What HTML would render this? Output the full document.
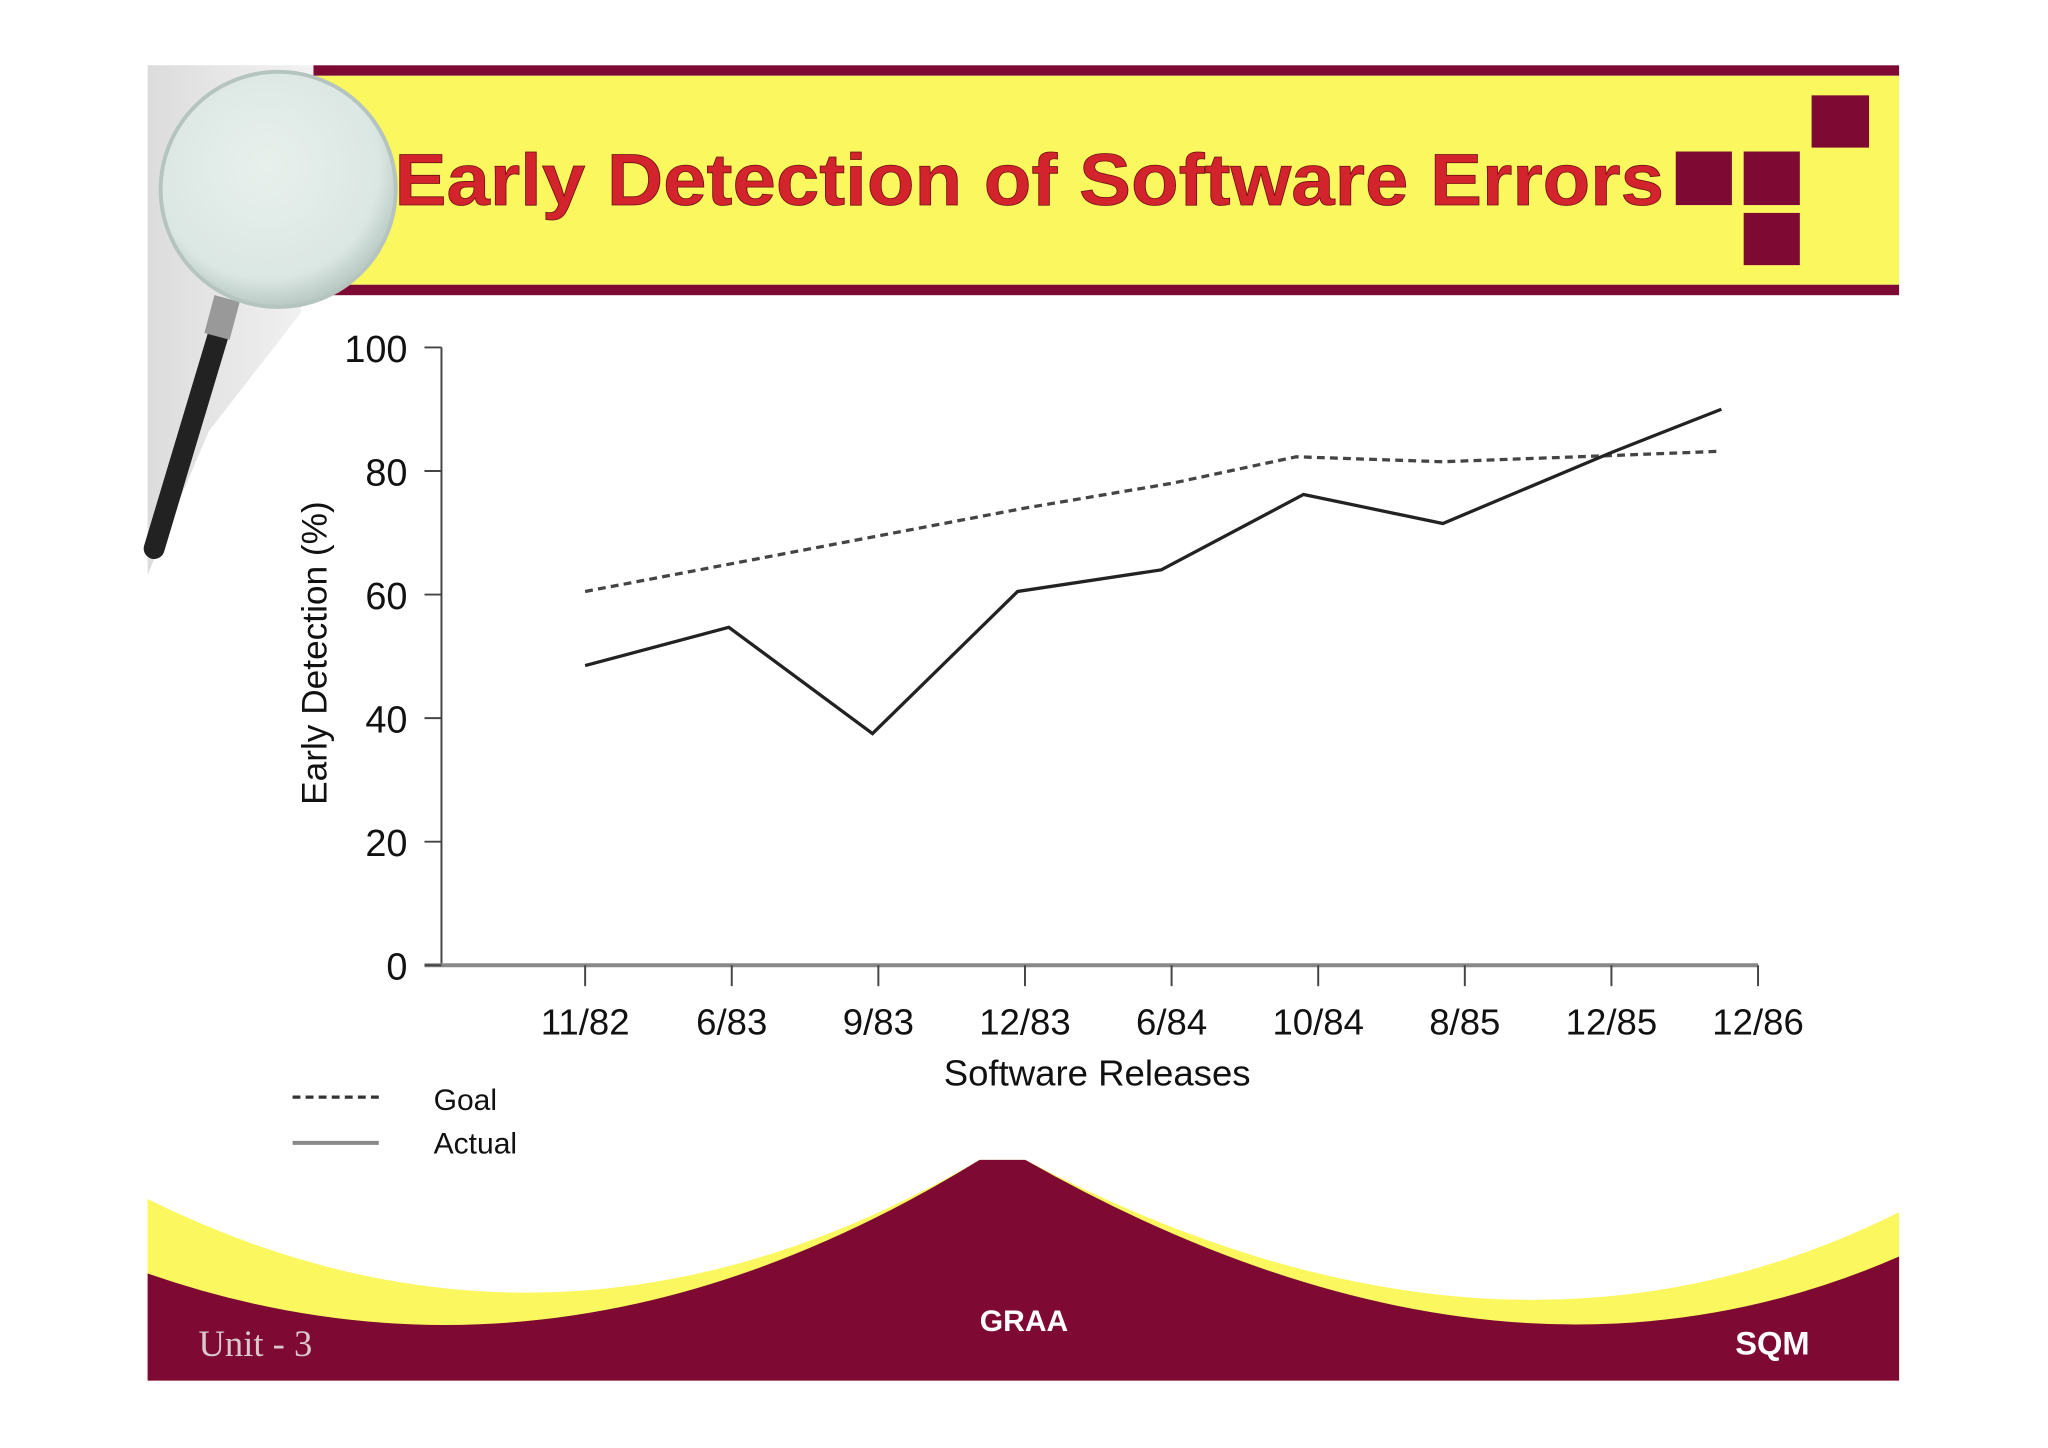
<!DOCTYPE html>
<html><head><meta charset="utf-8"><style>
html,body{margin:0;padding:0;background:#fff;}
svg{display:block;}
</style></head><body>
<svg id="slide" width="2048" height="1448" viewBox="0 0 1568 1108.6" preserveAspectRatio="none" xmlns="http://www.w3.org/2000/svg" font-family="Liberation Sans, sans-serif">
<defs>
<radialGradient id="lens" cx="0.45" cy="0.4" r="0.6"><stop offset="0" stop-color="#e8f0ec"/><stop offset="0.8" stop-color="#dbe7e3"/><stop offset="1" stop-color="#b9c9c4"/></radialGradient>
<linearGradient id="shade" x1="0" x2="1"><stop offset="0" stop-color="#dcdcdc"/><stop offset="1" stop-color="#f6f6f6"/></linearGradient>
</defs>
<rect width="1568" height="1108.6" fill="#fff"/>
<g><polygon points="113,50 260,50 230,240 160,330 113,440" fill="url(#shade)"/></g>
<g>
<rect x="240" y="50" width="1214" height="8" fill="#7e0a34"/>
<rect x="240" y="58" width="1214" height="160" fill="#fbf85f"/>
<rect x="240" y="218" width="1214" height="8" fill="#7e0a34"/>
</g>
<g>
<line x1="172" y1="240" x2="118" y2="420" stroke="#222" stroke-width="16" stroke-linecap="round"/>
<rect x="160" y="228" width="20" height="30" fill="#999" transform="rotate(15 170 243)"/>
<circle cx="213" cy="145" r="90" fill="url(#lens)" stroke="#b5c4bf" stroke-width="3"/>
</g>
<text x="302" y="157" style="font-family:'Liberation Sans',sans-serif" font-weight="bold" font-size="56" fill="#d3232d" stroke="#6a1010" stroke-width="0.6" textLength="972" lengthAdjust="spacingAndGlyphs">Early Detection of Software Errors</text>
<g fill="#7e0a34">
<rect x="1387" y="73" width="44" height="40"/><rect x="1283" y="116" width="43" height="41"/><rect x="1335" y="116" width="43" height="41"/><rect x="1335" y="163" width="43" height="40"/>
</g>
<g id="chart"></g>
<g>
<line x1="224" y1="840" x2="290" y2="840" stroke="#333" stroke-width="2.5" stroke-dasharray="6,4"/>
<text x="332" y="850" font-size="23" fill="#111">Goal</text>
<line x1="224" y1="875" x2="290" y2="875" stroke="#888" stroke-width="3"/>
<text x="332" y="883" font-size="23" fill="#111">Actual</text>
</g>
<g>
<path d="M113,918 Q430,1075 750,888 L785,888 Q1150,1080 1454,928 L1454,1057 L113,1057 Z" fill="#fbf85f"/>
<path d="M113,975 Q430,1085 750,888 L785,888 Q1150,1095 1454,962 L1454,1057 L113,1057 Z" fill="#7e0a34"/>
<text x="784" y="1019" text-anchor="middle" font-weight="bold" font-size="23" fill="#fff">GRAA</text>
<text x="152" y="1038" style="font-family:'Liberation Serif',serif" font-size="28" fill="#d9c8cc">Unit - 3</text>
<text x="1357" y="1037" text-anchor="middle" font-weight="bold" font-size="25" fill="#fff">SQM</text>
</g>
</svg>
<script>
const categories=["11/82","6/83","9/83","12/83","6/84","10/84","8/85","12/85","12/86"];
const yTicks=[0,20,40,60,80,100];
const goalX=[0,1,2,3,4,4.85,5.85,7,7.75];
const goalY=[60.5,65,69.5,74,78,82.3,81.5,82.5,83.2];
const actualX=[0,0.98,1.96,2.95,3.93,4.9,5.85,7,7.75];
const actualY=[48.5,54.7,37.5,60.5,64,76.2,71.5,83,90];
const NS="http://www.w3.org/2000/svg";
const g=document.getElementById('chart');
const x0=448,dx=112.25,yBase=739,yTop=266;
const xs=i=>x0+i*dx;
const ys=v=>yBase-(v/100)*(yBase-yTop);
function mk(t,a){const e=document.createElementNS(NS,t);for(const k in a)e.setAttribute(k,a[k]);g.appendChild(e);return e;}
let e;
e=mk('line',{x1:338,y1:ys(100),x2:338,y2:yBase,stroke:'#444','stroke-width':1.5});


e=mk('line',{x1:325,y1:yBase,x2:1346,y2:yBase,stroke:'#888','stroke-width':3});


yTicks.forEach(v=>{
 e=mk('line',{x1:325,y1:ys(v),x2:338,y2:ys(v),stroke:'#444','stroke-width':1.5});
 
 
 e=mk('text',{x:312,y:ys(v)+11,'text-anchor':'end','font-size':29,fill:'#111'});e.textContent=v;
 
 
});
categories.forEach((c,i)=>{
 e=mk('line',{x1:xs(i),y1:yBase,x2:xs(i),y2:yBase+16,stroke:'#444','stroke-width':1.5});
 
 
 e=mk('text',{x:xs(i),y:792,'text-anchor':'middle','font-size':28,fill:'#111'});e.textContent=c;
 
 
});
e=mk('text',{x:840,y:831,'text-anchor':'middle','font-size':28,fill:'#111'});e.textContent='Software Releases';


e=mk('text',{x:0,y:0,'text-anchor':'middle','font-size':27,fill:'#111',transform:'translate(250,500) rotate(-90)'});e.textContent='Early Detection (%)';


e=mk('polyline',{points:goalX.map((x,i)=>xs(x)+','+ys(goalY[i])).join(' '),fill:'none',stroke:'#444','stroke-width':2.5,'stroke-dasharray':'6,4'});


e=mk('polyline',{points:actualX.map((x,i)=>xs(x)+','+ys(actualY[i])).join(' '),fill:'none',stroke:'#222','stroke-width':2.5});


</script>
</body></html>
